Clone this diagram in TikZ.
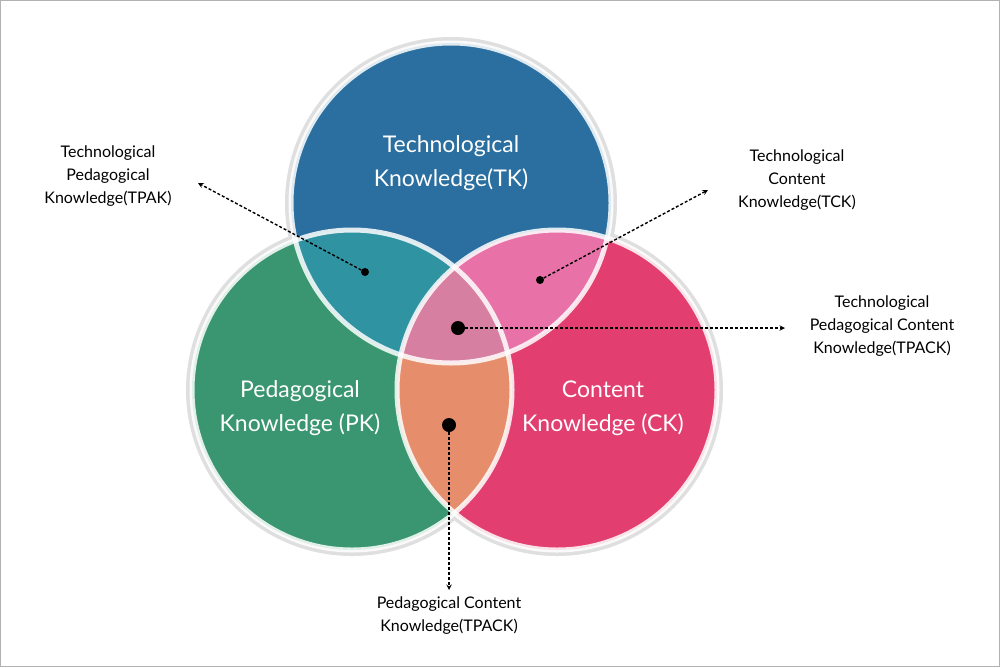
\documentclass[tikz,border=0pt]{standalone}
\usepackage{fontspec}
\setmainfont{Lato}
\begin{document}
\begin{tikzpicture}[x=1pt,y=-1pt,
  lbl/.style={align=center,font=\fontsize{16}{23}\selectfont,text=black},
  big/.style={align=center,font=\fontsize{23}{34}\selectfont,text=white},
  arr/.style={densely dashed,line width=1.4pt,-stealth},
  dot/.style={circle,fill=black,inner sep=0pt,minimum size=7pt}]
\definecolor{tk}{HTML}{2A6FA0}\definecolor{pk}{HTML}{3A9670}\definecolor{ck}{HTML}{E23E70}
\definecolor{tp}{HTML}{2F93A2}\definecolor{tc}{HTML}{E872A8}\definecolor{pc}{HTML}{E68E6C}\definecolor{al}{HTML}{D77FA0}
\useasboundingbox (0,0) rectangle (1000,667);
\draw[gray!60] (0.5,0.5) rectangle (999.5,666.5);
\coordinate (T) at (451,203); \coordinate (P) at (352,390); \coordinate (C) at (557,390);
\def\R{160}
\foreach \c in {T,P,C} \fill[gray!25] (\c) circle (\R+6);
\fill[tk] (T) circle (\R); \fill[pk] (P) circle (\R); \fill[ck] (C) circle (\R);
\begin{scope}\clip (T) circle (\R); \fill[tp] (P) circle (\R); \fill[tc] (C) circle (\R);\end{scope}
\begin{scope}\clip (P) circle (\R); \fill[pc] (C) circle (\R);
 \clip (C) circle (\R); \fill[al] (T) circle (\R);\end{scope}
\foreach \c in {T,P,C} \draw[white,line width=5pt,opacity=0.85] (\c) circle (\R);
\node[big] (tkl) at (451,163) {Technological\\Knowledge(TK)};
\node[big] (pkl) at (300,408) {Pedagogical\\Knowledge (PK)};
\node[big] (ckl) at (603,408) {Content\\Knowledge (CK)};
\node[dot,minimum size=8pt] (d1) at (365,272) {};
\node[dot,minimum size=8pt] (d2) at (540,280) {};
\node[dot,minimum size=14pt] (d3) at (458,328) {};
\node[dot,minimum size=14pt] (d4) at (449,425) {};
\node[lbl] (l1) at (108,176) {Technological\\Pedagogical\\Knowledge(TPAK)};
\node[lbl] (l2) at (797,180) {Technological\\Content\\Knowledge(TCK)};
\node[lbl] (l3) at (882,326) {Technological\\Pedagogical Content\\Knowledge(TPACK)};
\node[lbl] (l4) at (449,616) {Pedagogical Content\\Knowledge(TPACK)};
\coordinate (e1) at (198,183); \coordinate (e2) at (708,190);
\coordinate (e3) at (785,328); \coordinate (e4) at (449,590);
\draw[arr] (d1) -- (e1); \draw[arr] (d2) -- (e2);
\draw[arr] (d3) -- (e3); \draw[arr] (d4) -- (e4);
\end{tikzpicture}
\end{document}
